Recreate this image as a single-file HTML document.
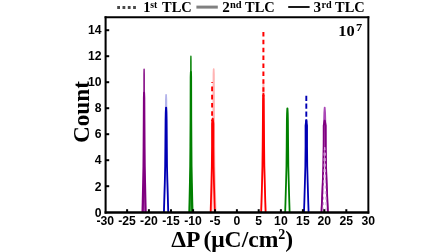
<!DOCTYPE html>
<html lang="en">
<head>
<meta charset="utf-8">
<title>Count vs ΔP</title>
<style>
html,body{margin:0;padding:0;background:#fff;}
body{width:448px;height:252px;overflow:hidden;}
svg{display:block;filter:blur(0.45px);}
.tk text{font-family:"Liberation Sans",Arial,sans-serif;font-weight:bold;font-size:12.2px;fill:#000;}
.ser{font-family:"Liberation Serif","Times New Roman",serif;font-weight:bold;fill:#000;}
</style>
</head>
<body>
<svg width="448" height="252" viewBox="0 0 448 252">
<rect width="448" height="252" fill="#fff"/>
<g>
<path d="M143.24 212.20 L143.28 208.20 L143.36 202.20 L143.58 182.20 L143.74 166.20 L143.82 146.20 L143.90 120.20 L143.96 74.20 L144.06 69.20 L144.14 69.20 L144.24 74.20 L144.30 120.20 L144.38 146.20 L144.46 166.20 L144.62 182.20 L144.84 202.20 L144.92 208.20 L144.96 212.20" fill="none" stroke="#800080" stroke-width="1.25" stroke-linejoin="round"/>
<path d="M142.38 212.20 L142.46 208.20 L142.62 202.20 L143.06 182.20 L143.38 166.20 L143.54 146.20 L143.70 120.20 L143.82 97.60 L144.02 92.60 L144.18 92.60 L144.38 97.60 L144.50 120.20 L144.66 146.20 L144.82 166.20 L145.14 182.20 L145.58 202.20 L145.74 208.20 L145.82 212.20" fill="none" stroke="#800080" stroke-width="1.8" stroke-linejoin="round"/>
<path d="M163.95 212.20 L164.05 208.20 L164.25 202.20 L164.80 182.20 L165.20 166.20 L165.40 146.20 L165.60 120.20 L165.75 99.81 L166.00 94.81 L166.20 94.81 L166.45 99.81 L166.60 120.20 L166.80 146.20 L167.00 166.20 L167.40 182.20 L167.95 202.20 L168.15 208.20 L168.25 212.20" fill="none" stroke="#b4b4ea" stroke-width="1.5" stroke-linejoin="round"/>
<path d="M163.95 212.20 L164.05 208.20 L164.25 202.20 L164.80 182.20 L165.20 166.20 L165.40 146.20 L165.60 120.20 L165.75 112.55 L166.00 107.55 L166.20 107.55 L166.45 112.55 L166.60 120.20 L166.80 146.20 L167.00 166.20 L167.40 182.20 L167.95 202.20 L168.15 208.20 L168.25 212.20" fill="none" stroke="#0000b4" stroke-width="1.8" stroke-linejoin="round"/>
<path d="M190.06 212.20 L190.10 208.20 L190.18 202.20 L190.39 182.20 L190.55 166.20 L190.63 146.20 L190.71 120.20 L190.76 61.20 L190.86 56.20 L190.94 56.20 L191.04 61.20 L191.09 120.20 L191.17 146.20 L191.25 166.20 L191.41 182.20 L191.62 202.20 L191.70 208.20 L191.74 212.20" fill="none" stroke="#008000" stroke-width="1.25" stroke-linejoin="round"/>
<path d="M189.22 212.20 L189.30 208.20 L189.46 202.20 L189.89 182.20 L190.20 166.20 L190.35 146.20 L190.51 120.20 L190.63 76.80 L190.82 71.80 L190.98 71.80 L191.17 76.80 L191.29 120.20 L191.45 146.20 L191.60 166.20 L191.91 182.20 L192.34 202.20 L192.50 208.20 L192.58 212.20" fill="none" stroke="#008000" stroke-width="1.8" stroke-linejoin="round"/>
<path d="M211.66 212.20 L211.75 208.20 L211.94 202.20 L212.46 182.20 L212.84 166.20 L213.03 146.20 L213.22 120.20 L213.37 73.94 L213.60 68.94 L213.79 68.94 L214.03 73.94 L214.17 120.20 L214.36 146.20 L214.55 166.20 L214.94 182.20 L215.46 202.20 L215.65 208.20 L215.74 212.20" fill="none" stroke="#ffb4b4" stroke-width="1.5" stroke-linejoin="round"/>
<path d="M212.10 82.20 V121.20" fill="none" stroke="#ff0000" stroke-width="1.9" stroke-dasharray="4.6 3.6" stroke-dashoffset="3.8"/>
<path d="M210.66 212.20 L210.75 208.20 L210.94 202.20 L211.46 182.20 L211.84 166.20 L212.03 146.20 L212.03 123.60 L212.60 118.60 L212.79 118.60 L213.36 123.60 L213.36 146.20 L213.55 166.20 L213.94 182.20 L214.46 202.20 L214.65 208.20 L214.74 212.20" fill="none" stroke="#ff0000" stroke-width="1.8" stroke-linejoin="round"/>
<path d="M261.19 212.20 L261.29 208.20 L261.49 202.20 L262.06 182.20 L262.47 166.20 L262.68 146.20 L262.88 120.20 L263.04 87.20 L263.30 82.20 L263.50 82.20 L263.76 87.20 L263.91 120.20 L264.12 146.20 L264.33 166.20 L264.74 182.20 L265.31 202.20 L265.51 208.20 L265.61 212.20" fill="none" stroke="#ffb4b4" stroke-width="1.5" stroke-linejoin="round"/>
<path d="M263.40 31.50 V96.50" fill="none" stroke="#ff0000" stroke-width="2.0" stroke-dasharray="4.5 3.4" stroke-dashoffset="-0.4"/>
<path d="M261.19 212.20 L261.29 208.20 L261.49 202.20 L262.06 182.20 L262.47 166.20 L262.68 146.20 L262.88 120.20 L263.04 98.90 L263.30 93.90 L263.50 93.90 L263.76 98.90 L263.91 120.20 L264.12 146.20 L264.33 166.20 L264.74 182.20 L265.31 202.20 L265.51 208.20 L265.61 212.20" fill="none" stroke="#ff0000" stroke-width="1.8" stroke-linejoin="round"/>
<path d="M285.19 212.20 L285.29 208.20 L285.49 202.20 L286.06 182.20 L286.47 166.20 L286.68 146.20 L286.88 120.20 L287.04 113.46 L287.30 108.46 L287.50 108.46 L287.76 113.46 L287.91 120.20 L288.12 146.20 L288.33 166.20 L288.74 182.20 L289.31 202.20 L289.51 208.20 L289.61 212.20" fill="none" stroke="#008000" stroke-width="1.8" stroke-linejoin="round"/>
<path d="M306.30 95.46 V122.50" fill="none" stroke="#0000b4" stroke-width="1.9" stroke-dasharray="5.3 2.6" stroke-dashoffset="-0.2"/>
<path d="M304.02 212.20 L304.13 208.20 L304.34 202.20 L304.92 182.20 L305.35 166.20 L305.56 146.20 L305.56 125.55 L306.19 120.55 L306.41 120.55 L307.04 125.55 L307.04 146.20 L307.25 166.20 L307.68 182.20 L308.26 202.20 L308.47 208.20 L308.58 212.20" fill="none" stroke="#0000b4" stroke-width="1.8" stroke-linejoin="round"/>
<path d="M321.47 212.20 L321.62 208.20 L321.93 202.20 L322.75 182.20 L323.35 166.20 L323.65 146.20 L323.95 120.20 L324.18 112.55 L324.55 107.55 L324.85 107.55 L325.22 112.55 L325.45 120.20 L325.75 146.20 L326.05 166.20 L326.65 182.20 L327.47 202.20 L327.77 208.20 L327.93 212.20" fill="none" stroke="#aa48b6" stroke-width="1.5" stroke-linejoin="round"/>
<path d="M321.47 212.20 L321.62 208.20 L321.93 202.20 L322.75 182.20 L323.35 166.20 L323.65 146.20 L323.65 125.55 L324.55 120.55 L324.85 120.55 L325.75 125.55 L325.75 146.20 L326.05 166.20 L326.65 182.20 L327.47 202.20 L327.77 208.20 L327.93 212.20" fill="none" stroke="#800080" stroke-width="1.8" stroke-linejoin="round"/>
<path d="M324.63 147.20 L324.09 152.20 L324.09 166.20 L323.82 182.20 L323.45 202.20 L323.32 208.20 L323.25 212.20 M324.77 147.20 L325.31 152.20 L325.31 166.20 L325.58 182.20 L325.95 202.20 L326.08 208.20 L326.15 212.20" fill="none" stroke="#d4a0dc" stroke-width="1.0" stroke-dasharray="3 2.5" stroke-linejoin="round"/>
</g>
<path d="M105.6 16.30 V213.65" stroke="#000" stroke-width="2.05" fill="none"/>
<path d="M368.35 16.30 V213.65" stroke="#000" stroke-width="1.95" fill="none"/>
<path d="M104.60 17.3 H369.30" stroke="#000" stroke-width="2.05" fill="none"/>
<path d="M104.60 212.5 H369.30" stroke="#000" stroke-width="2.3" fill="none"/>
<g>
<line x1="127.10" y1="212.5" x2="127.10" y2="209.20" stroke="#000" stroke-width="2"/>
<line x1="148.90" y1="212.5" x2="148.90" y2="209.20" stroke="#000" stroke-width="2"/>
<line x1="171.00" y1="212.5" x2="171.00" y2="209.20" stroke="#000" stroke-width="2"/>
<line x1="193.10" y1="212.5" x2="193.10" y2="209.20" stroke="#000" stroke-width="2"/>
<line x1="215.00" y1="212.5" x2="215.00" y2="209.20" stroke="#000" stroke-width="2"/>
<line x1="236.90" y1="212.5" x2="236.90" y2="209.20" stroke="#000" stroke-width="2"/>
<line x1="258.70" y1="212.5" x2="258.70" y2="209.20" stroke="#000" stroke-width="2"/>
<line x1="280.90" y1="212.5" x2="280.90" y2="209.20" stroke="#000" stroke-width="2"/>
<line x1="302.90" y1="212.5" x2="302.90" y2="209.20" stroke="#000" stroke-width="2"/>
<line x1="324.30" y1="212.5" x2="324.30" y2="209.20" stroke="#000" stroke-width="2"/>
<line x1="346.30" y1="212.5" x2="346.30" y2="209.20" stroke="#000" stroke-width="2"/>
<line x1="105.6" y1="186.20" x2="109.20" y2="186.20" stroke="#000" stroke-width="2"/>
<line x1="105.6" y1="160.20" x2="109.20" y2="160.20" stroke="#000" stroke-width="2"/>
<line x1="105.6" y1="134.20" x2="109.20" y2="134.20" stroke="#000" stroke-width="2"/>
<line x1="105.6" y1="108.20" x2="109.20" y2="108.20" stroke="#000" stroke-width="2"/>
<line x1="105.6" y1="82.20" x2="109.20" y2="82.20" stroke="#000" stroke-width="2"/>
<line x1="105.6" y1="56.20" x2="109.20" y2="56.20" stroke="#000" stroke-width="2"/>
<line x1="105.6" y1="30.20" x2="109.20" y2="30.20" stroke="#000" stroke-width="2"/>
</g>
<g class="tk">
<text transform="translate(105.20 225.45) scale(1 1.09)" text-anchor="middle">-30</text>
<text transform="translate(127.10 225.45) scale(1 1.09)" text-anchor="middle">-25</text>
<text transform="translate(148.90 225.45) scale(1 1.09)" text-anchor="middle">-20</text>
<text transform="translate(171.00 225.45) scale(1 1.09)" text-anchor="middle">-15</text>
<text transform="translate(193.10 225.45) scale(1 1.09)" text-anchor="middle">-10</text>
<text transform="translate(215.00 225.45) scale(1 1.09)" text-anchor="middle">-5</text>
<text transform="translate(236.90 225.45) scale(1 1.09)" text-anchor="middle">0</text>
<text transform="translate(258.70 225.45) scale(1 1.09)" text-anchor="middle">5</text>
<text transform="translate(280.90 225.45) scale(1 1.09)" text-anchor="middle">10</text>
<text transform="translate(302.90 225.45) scale(1 1.09)" text-anchor="middle">15</text>
<text transform="translate(324.30 225.45) scale(1 1.09)" text-anchor="middle">20</text>
<text transform="translate(346.30 225.45) scale(1 1.09)" text-anchor="middle">25</text>
<text transform="translate(368.20 225.45) scale(1 1.09)" text-anchor="middle">30</text>
<text transform="translate(101.45 216.70) scale(1 1.06)" text-anchor="end">0</text>
<text transform="translate(101.45 190.54) scale(1 1.06)" text-anchor="end">2</text>
<text transform="translate(101.45 164.38) scale(1 1.06)" text-anchor="end">4</text>
<text transform="translate(101.45 138.22) scale(1 1.06)" text-anchor="end">6</text>
<text transform="translate(101.45 112.06) scale(1 1.06)" text-anchor="end">8</text>
<text transform="translate(101.45 85.90) scale(1 1.06)" text-anchor="end">10</text>
<text transform="translate(101.45 59.74) scale(1 1.06)" text-anchor="end">12</text>
<text transform="translate(101.45 33.58) scale(1 1.06)" text-anchor="end">14</text>
</g>
<!-- legend -->
<line x1="117.2" y1="7.5" x2="136" y2="7.5" stroke="#484848" stroke-width="3" stroke-dasharray="2.8 2.5"/>
<text class="ser" x="143.3" y="11.9" font-size="14.4" textLength="7.2" lengthAdjust="spacingAndGlyphs">1</text>
<text class="ser" x="150.3" y="8.3" font-size="11.2" textLength="7" lengthAdjust="spacingAndGlyphs">st</text>
<text class="ser" x="162" y="11.9" font-size="14.4" textLength="29.7" lengthAdjust="spacingAndGlyphs">TLC</text>
<line x1="196.4" y1="7.1" x2="217.8" y2="7.1" stroke="#808080" stroke-width="3"/>
<text class="ser" x="222.2" y="11.9" font-size="14.4" textLength="7.6" lengthAdjust="spacingAndGlyphs">2</text>
<text class="ser" x="230.0" y="7.9" font-size="11.4" textLength="11.7" lengthAdjust="spacingAndGlyphs">nd</text>
<text class="ser" x="245.1" y="11.9" font-size="14.4" textLength="29.7" lengthAdjust="spacingAndGlyphs">TLC</text>
<line x1="288.2" y1="7" x2="309.6" y2="7" stroke="#000" stroke-width="1.8"/>
<text class="ser" x="313.6" y="11.9" font-size="14.4" textLength="7.6" lengthAdjust="spacingAndGlyphs">3</text>
<text class="ser" x="321.4" y="7.9" font-size="11.4" textLength="10.2" lengthAdjust="spacingAndGlyphs">rd</text>
<text class="ser" x="335.1" y="11.9" font-size="14.4" textLength="29.7" lengthAdjust="spacingAndGlyphs">TLC</text>
<text class="ser" x="338.2" y="36" font-size="15.4" textLength="16.4" lengthAdjust="spacingAndGlyphs">10</text>
<text class="ser" x="356" y="31.3" font-size="10.6" textLength="6.2" lengthAdjust="spacingAndGlyphs">7</text>
<!-- axis titles -->
<text class="ser" x="171.2" y="246.7" font-size="23.6" word-spacing="-1.6">ΔP (μC/cm<tspan dy="-8" font-size="14">2</tspan><tspan dy="8">)</tspan></text>
<text class="ser" transform="translate(88.8 143) rotate(-90) scale(1 1.04)" font-size="23.2">Count</text>
</svg>
</body>
</html>
